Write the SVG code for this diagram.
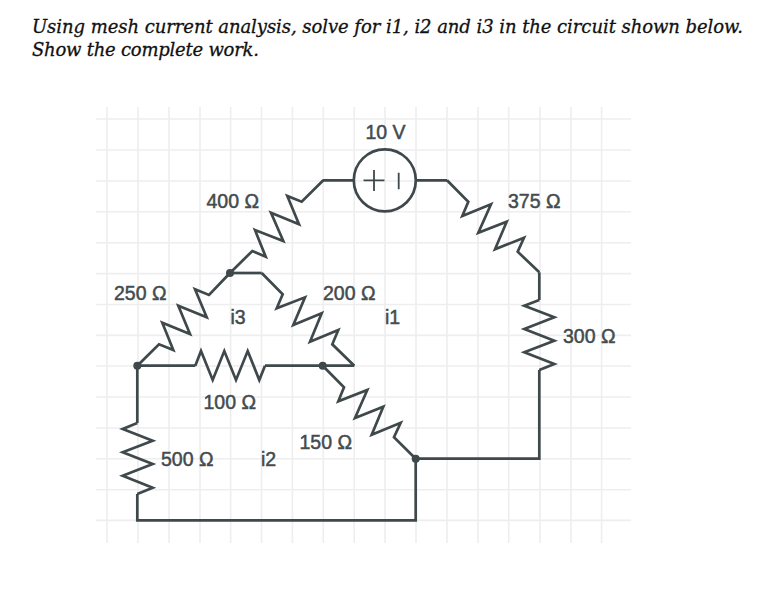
<svg xmlns="http://www.w3.org/2000/svg" width="776" height="596" viewBox="0 0 776 596">
<style>
.g{stroke:#eeeeee;stroke-width:1.6;fill:none}
.w{stroke:#3f484b;stroke-width:2.7;fill:none;stroke-linejoin:miter}
.t{font-family:"Liberation Sans",Arial,sans-serif;font-size:19.500px;fill:#444b4e;stroke:#444b4e;stroke-width:.5}
.h{font-family:"DejaVu Serif",serif;font-style:italic;font-size:18px;fill:#111;stroke:#111;stroke-width:.3}
.d{fill:#3f484b}
</style>
<rect width="776" height="596" fill="#fff"/>
<g id="grid" class="g">
<path d="M96 119H631M96 150H631M96 181H631M96 211.700H631M96 242.700H631M96 273.600H631M96 304.500H631M96 335.400H631M96 366H631M96 397H631M96 428H631M96 458.700H631M96 489.700H631M96 520.400H631"/>
<path d="M107 107V543M138 107V543M169 107V543M200 107V543M230.600 107V543M261.500 107V543M292.400 107V543M323.300 107V543M354.200 107V543M385 107V543M416 107V543M447 107V543M478 107V543M508.700 107V543M540 107V543M571 107V543M601.600 107V543"/>
</g>
<g id="title" class="h">
<text x="32" y="32.500" textLength="711">Using mesh current analysis, solve for i1, i2 and i3 in the circuit shown below.</text>
<text x="32" y="55.500" textLength="227">Show the complete work.</text>
</g>
<g id="connectors" class="w">
<path d="M137.300 365.700V423M137.300 494V520.300H415.700V458.700H539.300V370"/>
<path d="M137.300 365.700H195.300M265 365.700H354.300"/>
<path d="M322.700 180.300H353.300M416.300 180.300H447"/>
<path d="M539.300 272.300V300"/>
<path d="M230 273H261.700"/>
</g>
<g id="r400"><path class="w" d="M230 273L252.300 251L265.700 256.700L255 230L283.300 241L271 212.700L299 224.300L287.300 196L301.700 201.700L323.300 180.300"/><text class="t" x="206.500" y="208">400 Ω</text></g>
<g id="r250"><path class="w" d="M137.300 365.700L159 344.300L173.300 350L162.300 322.700L190 334L178.300 305.700L206.700 317.300L195 289.300L209 295L230 273"/><text class="t" x="114" y="300">250 Ω</text></g>
<g id="r200"><path class="w" d="M261.700 273L282.700 294.300L276.700 308.300L305 297.300L293.300 325L321.700 313.300L310 341.700L338.300 330L332.300 344.300L354.300 365.700"/><text class="t" x="323" y="300">200 Ω</text></g>
<g id="r100"><path class="w" d="M195.300 365.700L201 351L212.700 380L224.300 351L236 380L247.700 351L259.300 380L265 365.700"/><text class="t" x="203.500" y="409">100 Ω</text></g>
<g id="r150"><path class="w" d="M322.700 365.700L344 387.300L338.300 401.300L367.300 390L355 418L383.300 406.700L371.700 434.700L400.700 422.700L394 437.300L415.700 458.700"/><text class="t" x="299.500" y="449">150 Ω</text></g>
<g id="r375"><path class="w" d="M447 180.300L468.300 201.700L462.300 216L491 204.300L478.300 232.700L506.700 221.700L495 249.300L524 237.700L517.700 251.700L539.300 272.300"/><text class="t" x="508" y="208">375 Ω</text></g>
<g id="r300"><path class="w" d="M539.300 300L524.300 305.700L554.300 317.300L524.300 329L554.300 340.700L524.300 352.300L554.300 364L539.300 370"/><text class="t" x="563" y="343">300 Ω</text></g>
<g id="r500"><path class="w" d="M137.300 423L122.700 429L152.700 440.700L122.700 452.300L152.700 464L122.700 475.700L152.700 487.700L137.300 494"/><text class="t" x="161" y="466">500 Ω</text></g>
<g id="source"><circle class="w" cx="384.800" cy="180.300" r="31"/><path d="M363.500 180.300H384.500M374 170V191M398.700 172.700V189.300" stroke="#3f484b" stroke-width="1.800" fill="none"/><text class="t" x="365.500" y="139">10 V</text></g>
<g id="j1"><circle class="d" cx="137.300" cy="365.700" r="4"/></g>
<g id="j2"><circle class="d" cx="230" cy="273" r="4"/></g>
<g id="j3"><circle class="d" cx="322.700" cy="365.700" r="4"/></g>
<g id="j4"><circle class="d" cx="415.700" cy="458.700" r="4"/></g>
<g id="i1"><text class="t" x="385" y="324">i1</text></g>
<g id="i2"><text class="t" x="261" y="466">i2</text></g>
<g id="i3"><text class="t" x="230.500" y="324">i3</text></g>
</svg>
